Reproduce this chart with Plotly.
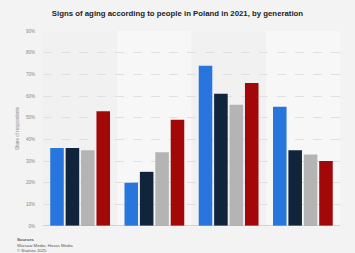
import plotly.graph_objects as go

categories = ["Group 1", "Group 2", "Group 3", "Group 4"]
series_names = ["Series 1", "Series 2", "Series 3", "Series 4"]
values = [
    [36, 20, 74, 55],
    [36, 25, 61, 35],
    [35, 34, 56, 33],
    [53, 49, 66, 30],
]
colors = ["#2876dd", "#10253b", "#b4b4b4", "#a30808"]
y_ticks = [0, 10, 20, 30, 40, 50, 60, 70, 80, 90]
y_tick_text = [f"{v}%" for v in y_ticks]

fig = go.Figure()
for name, vals, c in zip(series_names, values, colors):
    fig.add_trace(go.Bar(
        x=list(range(len(categories))), y=vals, name=name,
        marker=dict(color=c, line=dict(width=0)),
        hovertext=categories,
    ))

shapes = []
for i in range(len(categories)):
    shapes.append(dict(type="rect", xref="x", yref="paper",
                       x0=i - 0.5, x1=i + 0.5, y0=0, y1=1,
                       fillcolor="#f1f1f1" if i % 2 == 0 else "#f7f7f7",
                       line=dict(width=0), layer="below"))
shapes.append(dict(type="line", xref="paper", yref="y", x0=0, x1=1, y0=0, y1=0,
                   line=dict(color="#b0b0b0", width=1)))

fig.update_layout(
    width=355, height=253,
    paper_bgcolor="#f3f3f3", plot_bgcolor="rgba(0,0,0,0)",
    margin=dict(l=43, r=15, t=31, b=27),
    barmode="group", bargap=0.17, bargroupgap=0.12,
    showlegend=False,
    shapes=shapes,
    title=dict(text="<b>Signs of aging according to people in Poland in 2021, by generation</b>",
               x=0.5, xanchor="center", y=0.948, yanchor="middle",
               font=dict(family="Arial, Liberation Sans", size=7.8, color="#222")),
    font=dict(family="Arial, Liberation Sans"),
    xaxis=dict(range=[-0.5, 3.5], showticklabels=False, showgrid=False, zeroline=False,
               ticks="", fixedrange=True),
    yaxis=dict(range=[0, 90], tickvals=y_ticks, ticktext=y_tick_text,
               tickfont=dict(size=4.5, color="#888"),
               showgrid=True, gridcolor="#e0e0e0", griddash="dash", gridwidth=0.8,
               zeroline=False, ticks="", ticklabelstandoff=7,
               title=dict(text="Share of respondents", font=dict(size=4.5, color="#888"),
                          standoff=6)),
    annotations=[
        dict(text="<b>Sources</b><br>Warsaw Media; Havas Media<br>© Statista 2025",
             xref="paper", yref="paper", x=-0.095, y=-0.045, xanchor="left", yanchor="top",
             showarrow=False, align="left", font=dict(size=4.3, color="#555")),
    ],
)

fig.write_html("out.html")
